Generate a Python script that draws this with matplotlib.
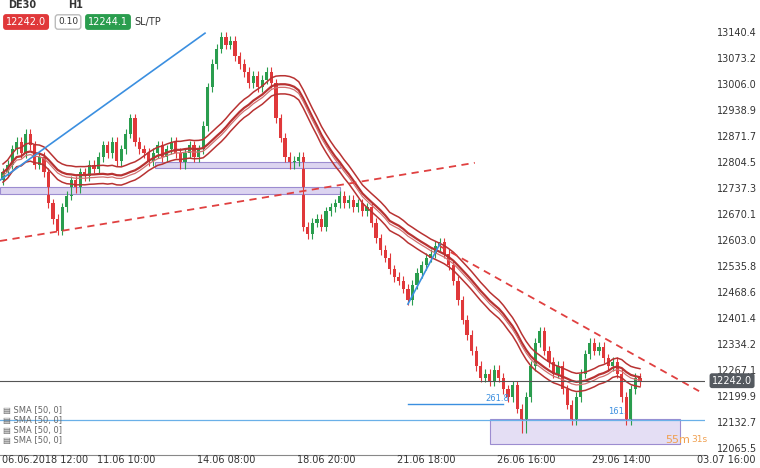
import matplotlib
matplotlib.use("Agg")
import matplotlib.pyplot as plt
import numpy as np
import pandas as pd
from matplotlib.patches import Rectangle

closes = [12780,12800,12840,12860,12830,12880,12850,12800,12820,
          12780,12700,12660,12630,12690,
          12720,12760,12740,12780,12770,12800,12790,12820,
          12850,12830,12860,12810,12840,12880,12920,
          12860,12840,12830,12810,12830,12850,12820,
          12840,12860,12830,12800,12830,12850,12820,12840,
          12900,13000,13060,13100,13130,13110,13120,
          13080,13060,13040,13010,13030,13000,13020,13040,13010,
          12920,12870,12820,12800,12810,12820,
          12640,12620,12650,12660,12640,12680,12690,12700,12720,
          12700,12710,12690,12700,12680,12690,12650,12610,12580,12560,
          12530,12510,12500,12480,12450,
          12490,12520,12540,12560,12570,12590,12600,
          12570,12540,12500,12450,12400,12360,12320,12280,12250,
          12260,12240,12270,12250,12220,12200,12230,12170,12120,
          12200,12280,12340,12370,
          12320,12290,12260,12280,12220,12180,12140,
          12200,12260,12310,12340,
          12320,12330,12300,12280,12290,12260,12200,12140,12220,12250,12240]
first_open = 12760
price_ticks = [13140.4,13073.2,13006.0,12938.9,12871.7,12804.5,12737.3,12670.1,
               12603.0,12535.8,12468.6,12401.4,12334.2,12267.1,12199.9,12132.7,12065.5]
date_labels = ["06.06.2018 12:00","11.06 10:00","14.06 08:00","18.06 20:00",
               "21.06 18:00","26.06 16:00","29.06 14:00","03.07 16:00"]
date_pos = [7,27,49,71,93,115,136,159]
last_price = 12242.0

W, H = 760, 468
fig = plt.figure(figsize=(7.6, 4.68), dpi=100)
fig.patch.set_facecolor("white")
ax = fig.add_axes([0, 13/468, 705/760, 455/468])
ax.set_xlim(-0.66, 154.3)
ax.set_ylim(12050, 13225.7)
ax.set_facecolor("white")
for s in ["top","left","right"]:
    ax.spines[s].set_visible(False)
ax.spines["bottom"].set_color("#888888")
ax.set_yticks([]); ax.set_xticks([])

opens = [first_open] + closes[:-1]
n = len(closes)
for i in range(n):
    o, c = opens[i], closes[i]
    col = "#2a9d4e" if c >= o else "#e0383a"
    ax.vlines(i, min(o,c)-12, max(o,c)+12, color=col, lw=0.8)
    ax.add_patch(Rectangle((i-0.35, min(o,c)), 0.7, max(abs(c-o), 2), color=col, lw=0))

sma = pd.Series(closes).rolling(20, min_periods=1).mean().values
idx = np.arange(n)
ax.plot(idx, sma+22, color="#b83232", lw=1.1)
ax.plot(idx, sma, color="#b83232", lw=1.6)
ax.plot(idx, sma-8, color="#d07070", lw=0.9)
ax.plot(idx, sma-25, color="#b83232", lw=1.1)

ax.plot([-0.66, 44.4], [12760, 13140], color="#3b8fe0", lw=1.2)
ax.plot([-0.66, 103.7], [12603, 12805], color="#e04040", lw=1.3, ls=(0,(4,3)))
ax.plot([96, 153], [12590, 12215], color="#e04040", lw=1.3, ls=(0,(4,3)))
ax.plot([89, 96], [12440, 12595], color="#3b8fe0", lw=1.2)
ax.add_patch(Rectangle((33.4, 12792), 40.7, 15, fc="#dcd4f0", ec="#9c8cd0", lw=0.8))
ax.add_patch(Rectangle((-0.66, 12724), 74.7, 18, fc="#dcd4f0", ec="#9c8cd0", lw=0.8))
ax.add_patch(Rectangle((107, 12078), 41.7, 65, fc="#e4def4", ec="#9c8cd0", lw=0.8))
ax.axhline(12140, color="#6ab0e8", lw=0.9)
ax.axhline(last_price, color="#555555", lw=0.8)
ax.plot([89, 110], [12183, 12183], color="#3b8fe0", lw=1)
ax.text(106, 12185, "261.8", color="#3b8fe0", fontsize=6, ha="left", va="bottom")
ax.text(133, 12150, "161.", color="#3b8fe0", fontsize=6, ha="left", va="bottom")
ax.text(145.5, 12090, "55m", color="#f0a050", fontsize=8, ha="left", va="center")
ax.text(151.3, 12090, "31s", color="#f0a050", fontsize=6.5, ha="left", va="center")

for p in price_ticks:
    y = (13225.7-p)/(13225.7-12050)*455
    fig.text(717/W, 1-y/H, f"{p:.1f}", fontsize=7, color="#333333", va="center")
ly = (13225.7-last_price)/(13225.7-12050)*455
fig.text(712/W, 1-ly/H, f"{last_price:.1f}", fontsize=7, color="white", va="center",
         bbox=dict(boxstyle="round,pad=0.25", fc="#555a60", ec="none"))
for k, (lbl, pos) in enumerate(zip(date_labels, date_pos)):
    xp = (pos+0.66)/(155)*705
    if k == 0:
        fig.text(2/W, 8/H, lbl, fontsize=7, color="#333333", ha="left", va="center")
    else:
        fig.text(xp/W, 8/H, lbl, fontsize=7, color="#333333", ha="center", va="center")

fig.text(8/W, 1-8/H, "DE30", fontsize=7, fontweight="bold", color="#333")
fig.text(6/W, 1-22/H, "12242.0", fontsize=7, color="white", va="center",
         bbox=dict(boxstyle="round,pad=0.3", fc="#e0383a", ec="none"))
fig.text(58/W, 1-22/H, "0.10", fontsize=6.5, color="#333", va="center",
         bbox=dict(boxstyle="round,pad=0.3", fc="white", ec="#bbbbbb"))
fig.text(88/W, 1-22/H, "12244.1", fontsize=7, color="white", va="center",
         bbox=dict(boxstyle="round,pad=0.3", fc="#2a9d4e", ec="none"))
fig.text(68/W, 1-8/H, "H1", fontsize=7, fontweight="bold", color="#333")
fig.text(134/W, 1-22/H, "SL/TP", fontsize=7, color="#333", va="center")
for k in range(4):
    fig.text(3/W, 1-(411+k*10)/H, "\u25a4 SMA [50, 0]", fontsize=6, color="#666", va="center")

fig.savefig("out.png", dpi=100)
